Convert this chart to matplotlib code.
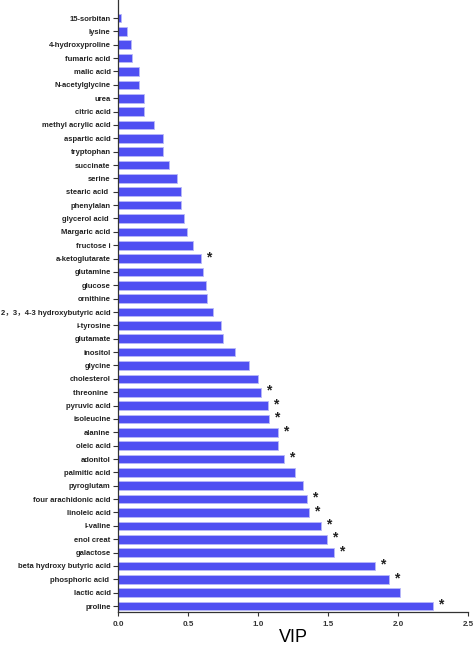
import matplotlib
matplotlib.use('Agg')
import matplotlib.pyplot as plt

# metabolites listed top to bottom as in the figure
names = ['15-sorbitan', 'lysine', '4-hydroxyproline', 'fumaric acid', 'malic acid',
         'N-acetylglycine', 'urea', 'citric acid', 'methyl acrylic acid', 'aspartic acid',
         'tryptophan', 'succinate', 'serine', 'stearic acid ', 'phenylalan',
         'glycerol acid ', 'Margaric acid', 'fructose i', 'a-ketoglutarate', 'glutamine',
         'glucose', 'ornithine', '2，3，4-3 hydroxybutyric acid', 'i-tyrosine', 'glutamate',
         'inositol', 'glycine', 'cholesterol', 'threonine ', 'pyruvic acid',
         'isoleucine', 'alanine', 'oleic acid', 'adonitol', 'palmitic acid',
         'pyroglutam', 'four arachidonic acid', 'linoleic acid', 'l-valine', 'enol creat',
         'galactose', 'beta hydroxy butyric acid', 'phosphoric acid ', 'lactic acid', 'proline']
vip = [0.02, 0.062, 0.088, 0.10, 0.146,
       0.148, 0.18, 0.18, 0.257, 0.32,
       0.32, 0.365, 0.42, 0.445, 0.445,
       0.47, 0.49, 0.536, 0.59, 0.607,
       0.624, 0.63, 0.674, 0.73, 0.75,
       0.834, 0.934, 1.0, 1.02, 1.067,
       1.077, 1.143, 1.143, 1.184, 1.26,
       1.32, 1.348, 1.362, 1.448, 1.493,
       1.54, 1.834, 1.93, 2.012, 2.248]
starred = ['a-ketoglutarate', 'threonine ', 'pyruvic acid', 'isoleucine', 'alanine',
           'adonitol', 'four arachidonic acid', 'linoleic acid', 'l-valine', 'enol creat',
           'galactose', 'beta hydroxy butyric acid', 'phosphoric acid ', 'proline']

plt.rcParams['font.family'] = ['Liberation Sans', 'Noto Sans CJK SC', 'DejaVu Sans']

fig = plt.figure(figsize=(4.74, 6.47), dpi=100)
ax = fig.add_axes([0.2496, 0.0536, 0.7384, 0.9464])

n = len(names)
ypos = [n - 1 - i for i in range(n)]
ax.barh(ypos, vip, height=0.65, color='#4f4ff2', edgecolor='#b8b8f8', linewidth=0.6)

for name, v, y in zip(names, vip, ypos):
    if name in starred:
        ax.text(v + 0.055, y + 0.1, '*', fontsize=10, fontweight='bold',
                ha='center', va='center', color='#222222')

ax.set_yticks(ypos)
ax.set_yticklabels(names, fontsize=5.5, fontweight='bold', color='#222222')
ax.set_xlim(0, 2.5)
ax.set_ylim(-0.47, n - 1 + 1.35)
ax.set_xticks([0, 0.5, 1.0, 1.5, 2.0, 2.5])
ax.set_xticklabels(['0.0', '0.5', '1.0', '1.5', '2.0', '2.5'], fontsize=5.8,
                   fontweight='bold', color='#333333')
ax.tick_params(axis='y', length=3.5, width=0.8, color='#333333', pad=2)
ax.tick_params(axis='x', length=3, width=0.8, color='#333333', pad=3)
ax.spines['top'].set_visible(False)
ax.spines['right'].set_visible(False)
for s in ['left', 'bottom']:
    ax.spines[s].set_color('#333333')
    ax.spines[s].set_linewidth(0.9)

ax.set_xlabel('VIP', fontsize=13, labelpad=1)

fig.savefig('out.png', dpi=100)
